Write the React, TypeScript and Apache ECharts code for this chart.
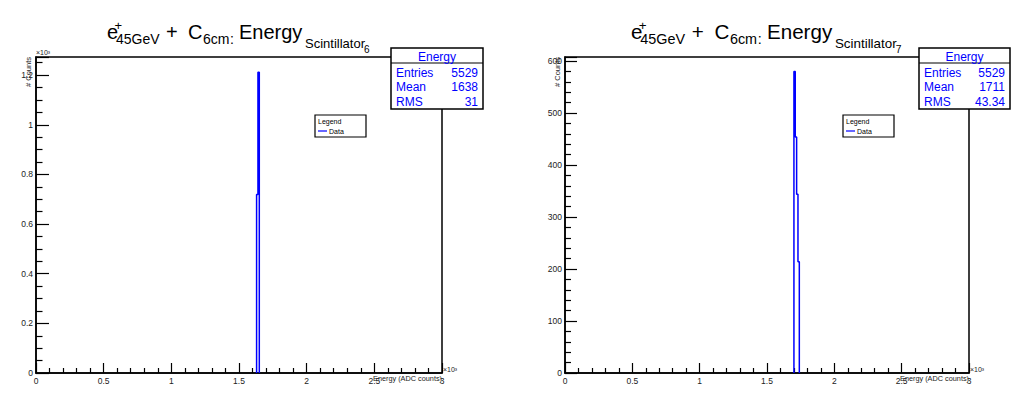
import React, { useEffect, useRef } from "react";
import * as echarts from "echarts";

const FONT = "'Liberation Sans', Arial, sans-serif";
const BLUE = "#0000ff";

// histogram bins (ADC counts), low edges + contents
const binWidth = 10;
const sc6BinLow = [1630, 1640];
const sc6Counts = [719, 1212];
const sc7BinLow = [1700, 1710, 1720, 1730];
const sc7Counts = [580, 454, 344, 214];

const sc6Stats = [
  ["Entries", "5529"],
  ["Mean", "1638"],
  ["RMS", "31"],
];
const sc7Stats = [
  ["Entries", "5529"],
  ["Mean", "1711"],
  ["RMS", "43.34"],
];

// build the step outline of a histogram from its bins
const outline = (low: number[], counts: number[]) => {
  const pts: number[][] = [[low[0], 0]];
  low.forEach((l, i) => {
    pts.push([l, counts[i]], [l + binWidth, counts[i]]);
  });
  pts.push([low[low.length - 1] + binWidth, 0]);
  return pts;
};

const panels = [
  {
    grid: { left: 36, top: 57, width: 406, height: 316 },
    yMax: 1273,
    yInterval: 200,
    ySplit: 4,
    yScale: 1000,
    yTick: 13,
    titleX: 107,
    titleScale: 1,
    sub: "6",
    stats: sc6Stats,
    statsBox: { x: 391, y: 48, w: 92, h: 61 },
    legendBox: { x: 315, y: 115, w: 51, h: 22 },
    data: outline(sc6BinLow, sc6Counts),
  },
  {
    grid: { left: 565, top: 57, width: 404, height: 316 },
    yMax: 608,
    yInterval: 100,
    ySplit: 5,
    yScale: 1,
    yTick: 12,
    titleX: 631,
    titleScale: 1.03,
    sub: "7",
    stats: sc7Stats,
    statsBox: { x: 919, y: 48, w: 91, h: 61 },
    legendBox: { x: 843, y: 115, w: 51, h: 22 },
    data: outline(sc7BinLow, sc7Counts),
  },
];

// text placed with its baseline at y
const txt = (
  text: string,
  x: number,
  baseline: number,
  size: number,
  fill = "#000",
  align = "left",
) => ({
  type: "text",
  z: 100,
  style: {
    text,
    x,
    y: baseline - size * 0.35,
    font: `${size}px ${FONT}`,
    fill,
    align,
    verticalAlign: "middle",
  },
});

const titleParts = (x0: number, k: number, sub: string) => {
  const parts: [string, number, number, number][] = [
    ["e", 0, 39, 20],
    ["+", 7.5, 30.5, 13],
    ["45GeV", 9, 44, 14],
    ["+", 59, 39, 20],
    ["C", 81, 39, 20],
    ["6cm", 96, 44, 14],
    [":", 123, 44, 14],
    ["Energy", 132, 39, 20],
    ["Scintillator", 198, 48, 13],
    [sub, 257, 53, 10],
  ];
  return parts.map(([t, dx, b, s]) => txt(t, x0 + dx * k, b, s * k));
};

const App = () => {
  const chartRef = useRef<HTMLDivElement>(null);

  useEffect(() => {
    const chart = echarts.init(chartRef.current, null, { renderer: "svg" });

    const graphic: any[] = [];
    panels.forEach((p) => {
      const g = p.grid;
      graphic.push(...titleParts(p.titleX, p.titleScale, p.sub));

      // stats box
      const sb = p.statsBox;
      graphic.push({
        type: "rect",
        z: 90,
        shape: { x: sb.x, y: sb.y, width: sb.w, height: sb.h },
        style: { fill: "#fff", stroke: "#000", lineWidth: 1.5 },
      });
      graphic.push({
        type: "line",
        z: 95,
        shape: { x1: sb.x, y1: sb.y + 15, x2: sb.x + sb.w, y2: sb.y + 15 },
        style: { stroke: "#000", lineWidth: 1.2 },
      });
      graphic.push(txt("Energy", sb.x + sb.w / 2, sb.y + 13, 12, BLUE, "center"));
      p.stats.forEach(([k, v], i) => {
        graphic.push(txt(k, sb.x + 5, sb.y + 29 + i * 14.5, 12, BLUE));
        graphic.push(txt(v, sb.x + sb.w - 5, sb.y + 29 + i * 14.5, 12, BLUE, "right"));
      });

      // legend box
      const lb = p.legendBox;
      graphic.push({
        type: "rect",
        z: 90,
        shape: { x: lb.x, y: lb.y, width: lb.w, height: lb.h },
        style: { fill: "#fff", stroke: "#000", lineWidth: 1.2 },
      });
      graphic.push(txt("Legend", lb.x + 3, lb.y + 8.5, 7));
      graphic.push({
        type: "line",
        z: 95,
        shape: { x1: lb.x + 3, y1: lb.y + 16, x2: lb.x + 12, y2: lb.y + 16 },
        style: { stroke: BLUE, lineWidth: 1.2 },
      });
      graphic.push(txt("Data", lb.x + 14, lb.y + 18.5, 7));

      // axis titles and exponents
      graphic.push(
        txt("Energy (ADC counts)", g.left + g.width, g.top + g.height + 8.5, 7.3, "#222", "right"),
      );
      graphic.push(txt("×10³", g.left + g.width + 1, g.top + g.height - 1.5, 7, "#222"));
      if (p.yScale !== 1) {
        graphic.push(txt("×10³", g.left, g.top - 2.5, 7, "#222"));
      }
      graphic.push({
        type: "text",
        z: 100,
        x: g.left - 8,
        y: g.top,
        rotation: Math.PI / 2,
        style: {
          text: "# Counts",
          x: 0,
          y: 0,
          font: `7.5px ${FONT}`,
          fill: "#222",
          align: "right",
          verticalAlign: "middle",
        },
      });
    });

    const tickStyle = { color: "#000", width: 1.2 };

    chart.setOption({
      animation: false,
      grid: panels.map((p) => ({
        ...p.grid,
        show: true,
        borderColor: "#000",
        borderWidth: 1.5,
        backgroundColor: "transparent",
      })),
      xAxis: panels.map((p, i) => ({
        type: "value",
        gridIndex: i,
        min: 0,
        max: 3000,
        interval: 500,
        axisLine: { show: true, lineStyle: { color: "#000", width: 1.5 } },
        axisTick: { show: true, inside: true, length: 10, lineStyle: tickStyle },
        minorTick: { show: true, splitNumber: 5, length: 5, lineStyle: tickStyle },
        axisLabel: {
          formatter: (v: number) => String(v / 1000),
          fontSize: 8.5,
          margin: 3,
          color: "#222",
          fontFamily: FONT,
        },
        splitLine: { show: false },
        minorSplitLine: { show: false },
      })),
      yAxis: panels.map((p, i) => ({
        type: "value",
        gridIndex: i,
        min: 0,
        max: p.yMax,
        interval: p.yInterval,
        axisLine: { show: true, lineStyle: { color: "#000", width: 1.5 } },
        axisTick: { show: true, inside: true, length: p.yTick, lineStyle: tickStyle },
        minorTick: {
          show: true,
          splitNumber: p.ySplit,
          length: p.yTick / 2,
          lineStyle: tickStyle,
        },
        axisLabel: {
          formatter: (v: number) => String(Math.round((v / p.yScale) * 1000) / 1000),
          showMaxLabel: false,
          fontSize: 8.5,
          margin: 3,
          color: "#222",
          fontFamily: FONT,
        },
        splitLine: { show: false },
        minorSplitLine: { show: false },
      })),
      series: panels.map((p, i) => ({
        type: "line",
        name: "Data",
        xAxisIndex: i,
        yAxisIndex: i,
        data: p.data,
        showSymbol: false,
        lineStyle: { color: BLUE, width: 1.5 },
        z: 3,
      })),
      graphic,
    });

    return () => chart.dispose();
  }, []);

  return (
    <div
      ref={chartRef}
      style={{
        position: "fixed",
        left: 0,
        top: 0,
        width: "1024px",
        height: "404px",
        background: "#fff",
      }}
    />
  );
};

export default App;
